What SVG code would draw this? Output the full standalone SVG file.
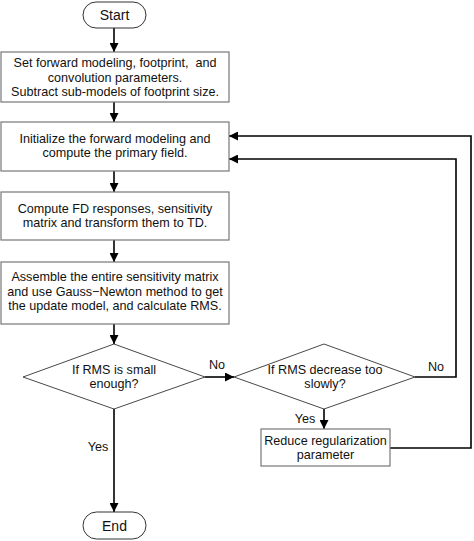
<svg xmlns="http://www.w3.org/2000/svg" width="474" height="541" viewBox="0 0 474 541">
<style>
text{font-family:"Liberation Sans",Arial,sans-serif;font-size:12.6px;fill:#111;text-anchor:middle}
.box{fill:#fff;stroke:#777;stroke-width:1.2}
.term{fill:#fff;stroke:#333;stroke-width:1}
.dia{fill:#fff;stroke:#333;stroke-width:0.9}
.ln{fill:none;stroke:#000;stroke-width:1.6}
</style>
<defs>
<marker id="ah" viewBox="0 0 10 10" refX="10" refY="5" markerWidth="10" markerHeight="9" markerUnits="userSpaceOnUse" orient="auto">
<path d="M0,0 L10,5 L0,10 Z" fill="#000"/>
</marker>
</defs>
<rect width="474" height="541" fill="#fff"/>
<g id="connectors">
<line class="ln" x1="114" y1="28" x2="114" y2="52" marker-end="url(#ah)"/>
<line class="ln" x1="114" y1="102" x2="114" y2="122" marker-end="url(#ah)"/>
<line class="ln" x1="114" y1="171" x2="114" y2="192" marker-end="url(#ah)"/>
<line class="ln" x1="114" y1="240" x2="114" y2="262" marker-end="url(#ah)"/>
<line class="ln" x1="114" y1="324" x2="114" y2="344" marker-end="url(#ah)"/>
<line class="ln" x1="205" y1="377" x2="234" y2="377" marker-end="url(#ah)"/>
<text x="217" y="369">No</text>
<line class="ln" x1="114" y1="409" x2="114" y2="512" marker-end="url(#ah)"/>
<text x="98" y="451">Yes</text>
<line class="ln" x1="324" y1="409" x2="324" y2="429" marker-end="url(#ah)"/>
<text x="305" y="423">Yes</text>
<polyline class="ln" points="415,377 456,377 456,159 229,159" marker-end="url(#ah)"/>
<text x="436" y="371">No</text>
<polyline class="ln" points="390,448 471,448 471,136 229,136" marker-end="url(#ah)"/>
</g>
<g id="start">
<rect class="term" x="83" y="2" width="63" height="26" rx="13"/>
<text x="114.5" y="20" style="font-size:14px">Start</text>
</g>
<g id="setParams">
<rect class="box" x="1" y="52" width="228" height="50"/>
<text x="115" y="67" xml:space="preserve">Set forward modeling, footprint,  and</text>
<text x="115" y="82">convolution parameters.</text>
<text x="115" y="96">Subtract sub-models of footprint size.</text>
</g>
<g id="initForward">
<rect class="box" x="1" y="122" width="228" height="49"/>
<text x="115" y="143">Initialize the forward modeling and</text>
<text x="115" y="157">compute the primary field.</text>
</g>
<g id="computeFD">
<rect class="box" x="1" y="192" width="228" height="48"/>
<text x="115" y="213">Compute FD responses, sensitivity</text>
<text x="115" y="227">matrix and transform them to TD.</text>
</g>
<g id="assemble">
<rect class="box" x="1" y="262" width="228" height="62"/>
<text x="115" y="281">Assemble the entire sensitivity matrix</text>
<text x="115" y="296">and use Gauss−Newton method to get</text>
<text x="115" y="310">the update model, and calculate RMS.</text>
</g>
<g id="rmsSmall">
<polygon class="dia" points="114,344 205,377 114,409 23,377"/>
<text x="114" y="374">If RMS is small</text>
<text x="114" y="388">enough?</text>
</g>
<g id="rmsSlow">
<polygon class="dia" points="324,344 415,377 324,409 234,377"/>
<text x="325" y="374">If RMS decrease too</text>
<text x="325" y="388">slowly?</text>
</g>
<g id="reduce">
<rect class="box" x="261" y="429" width="129" height="37"/>
<text x="325.5" y="445">Reduce regularization</text>
<text x="325.5" y="459">parameter</text>
</g>
<g id="end">
<rect class="term" x="83" y="512" width="63" height="27" rx="13.5"/>
<text x="114.5" y="531" style="font-size:14px">End</text>
</g>
</svg>
